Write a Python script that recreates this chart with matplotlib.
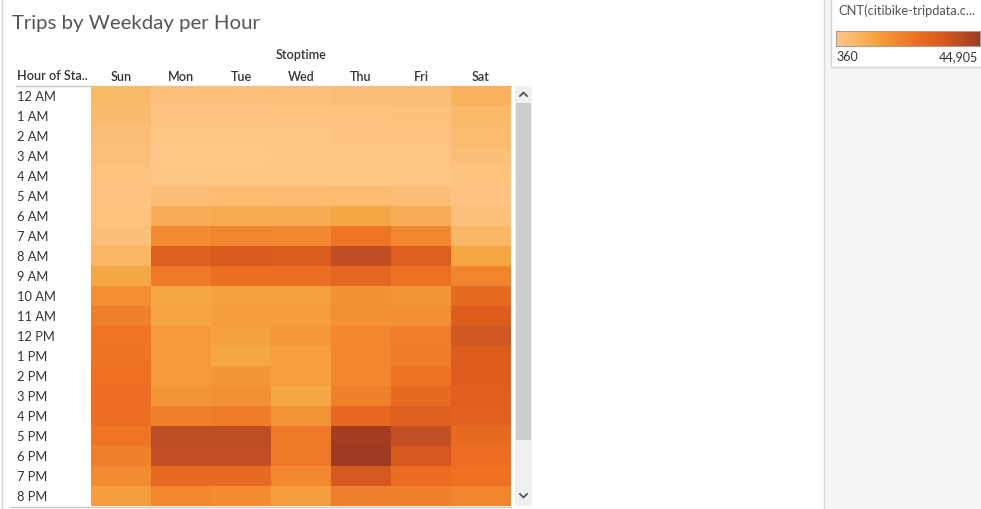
import numpy as np
import matplotlib
matplotlib.use("Agg")
import matplotlib.pyplot as plt
from matplotlib.colors import LinearSegmentedColormap
from matplotlib.patches import Rectangle

# Data: trip counts by hour of start time (rows) and weekday of stop time (columns)
days = ["Sun", "Mon", "Tue", "Wed", "Thu", "Fri", "Sat"]
hours = ["12 AM", "1 AM", "2 AM", "3 AM", "4 AM", "5 AM", "6 AM", "7 AM",
         "8 AM", "9 AM", "10 AM", "11 AM", "12 PM", "1 PM", "2 PM", "3 PM",
         "4 PM", "5 PM", "6 PM", "7 PM", "8 PM"]

sun = [5700, 4820, 3480, 2590, 1700, 1250, 1700, 3030, 6600, 11500, 17290,
       20400, 23520, 23970, 24860, 25300, 25300, 23520, 20400, 18180, 13720]
mon = [2140, 1250, 810, 360, 810, 3480, 9270, 18180, 30650, 22630, 11940,
       12390, 14610, 14610, 14610, 15950, 20850, 38670, 37780, 27090, 19070]
tue = [2140, 1250, 810, 360, 810, 3920, 10160, 19510, 32430, 25300, 12830,
       13720, 12830, 11500, 15500, 16840, 21740, 38670, 37780, 27090, 18180]
wed = [2590, 1700, 810, 810, 810, 3920, 9710, 19070, 31990, 25300, 12830,
       13720, 15060, 13280, 13280, 11500, 15950, 22630, 22630, 19070, 13720]
thu = [3480, 1700, 1250, 810, 810, 4370, 11500, 23520, 38220, 28420, 16840,
       16840, 19070, 19070, 19070, 20850, 27980, 43570, 44905, 33320, 20850]
fri = [3480, 2140, 1250, 810, 810, 3480, 9270, 19070, 30650, 24860, 15950,
       17290, 21300, 21740, 23970, 27090, 30650, 37780, 33320, 26200, 20400]
sat = [7490, 5700, 4370, 3030, 1700, 1250, 2590, 6150, 11940, 19510, 27090,
       31540, 34210, 31540, 31540, 31100, 29760, 27090, 25750, 24860, 19510]

counts = np.array([sun, mon, tue, wed, thu, fri, sat]).T
vmin, vmax = 360, 44905

cmap = LinearSegmentedColormap.from_list("tab_orange", [
    (0.0, "#ffc685"), (0.12, "#fbb96a"), (0.25, "#f6a746"),
    (0.4, "#f38b32"), (0.55, "#ed7023"), (0.7, "#dd5e1e"),
    (0.85, "#c04f24"), (1.0, "#9e3a20")])

W, H = 981, 509
plt.rcParams["font.family"] = ["Lato", "DejaVu Sans"]
fig = plt.figure(figsize=(W / 100, H / 100), dpi=100)

# overlay axes in pixel coordinates for the frame pieces
bg = fig.add_axes([0, 0, 1, 1])
bg.set_xlim(0, W)
bg.set_ylim(H, 0)
bg.axis("off")

# right side panel
bg.add_patch(Rectangle((824, 0), W - 824, H, color="#f4f4f4", lw=0))
bg.plot([824, 824], [0, H], color="#d9d9d9", lw=1)
bg.add_patch(Rectangle((831, -2), 152, 69, facecolor="white", edgecolor="#d4d4d4", lw=1))
bg.plot([2, 2], [0, H], color="#d4d4d4", lw=1)

# header and footer rules
bg.plot([16, 511], [85.5, 85.5], color="#c8c8c8", lw=1)
bg.plot([10, 511], [506.5, 506.5], color="#c8c8c8", lw=1)

# scrollbar
bg.add_patch(Rectangle((515, 86), 17, 420, color="#f0f0f0", lw=0))
bg.add_patch(Rectangle((516, 103), 15, 337, color="#cdcdcd", lw=0))
bg.plot([520, 523.5, 527], [96, 92.5, 96], color="#555555", lw=1.3)
bg.plot([520, 523.5, 527], [494, 497.5, 494], color="#555555", lw=1.3)

# titles and headers
bg.text(12, 23, "Trips by Weekday per Hour", fontsize=14.7, color="#555555",
        va="center", ha="left")
bg.text(301, 55, "Stoptime", fontsize=9, color="#333333", ha="center",
        va="center", fontweight="semibold")
bg.text(17, 76, "Hour of Sta..", fontsize=9, color="#333333", ha="left",
        va="center", fontweight="semibold")

# heatmap
ax = fig.add_axes([91 / W, (H - 506) / H, 420 / W, 420 / H])
ax.imshow(counts, cmap=cmap, vmin=vmin, vmax=vmax, aspect="auto",
          interpolation="nearest")
ax.set_xticks(range(len(days)))
ax.set_xticklabels(days, fontsize=9, color="#333333", fontweight="semibold")
ax.xaxis.tick_top()
ax.tick_params(axis="x", length=0, pad=2.5)
ax.set_yticks(range(len(hours)))
ax.set_yticklabels(hours, fontsize=9.3, color="#333333", ha="left")
ax.tick_params(axis="y", length=0, pad=(91 - 17) * 0.72)
for s in ax.spines.values():
    s.set_visible(False)

# legend
bg.text(838, 11, "CNT(citibike-tripdata.c...", fontsize=9.3, color="#555555",
        ha="left", va="center")
cax = fig.add_axes([836 / W, (H - 46) / H, 144 / W, 15 / H])
cax.imshow(np.linspace(0, 1, 256)[None, :], cmap=cmap, aspect="auto")
cax.set_xticks([])
cax.set_yticks([])
for s in cax.spines.values():
    s.set_color("#a0a0a0")
bg.text(836, 57, "360", fontsize=9, color="#333333", ha="left", va="center")
bg.text(978, 57, f"{vmax:,}", fontsize=9, color="#333333", ha="right", va="center")

fig.savefig("out.png", dpi=100)
